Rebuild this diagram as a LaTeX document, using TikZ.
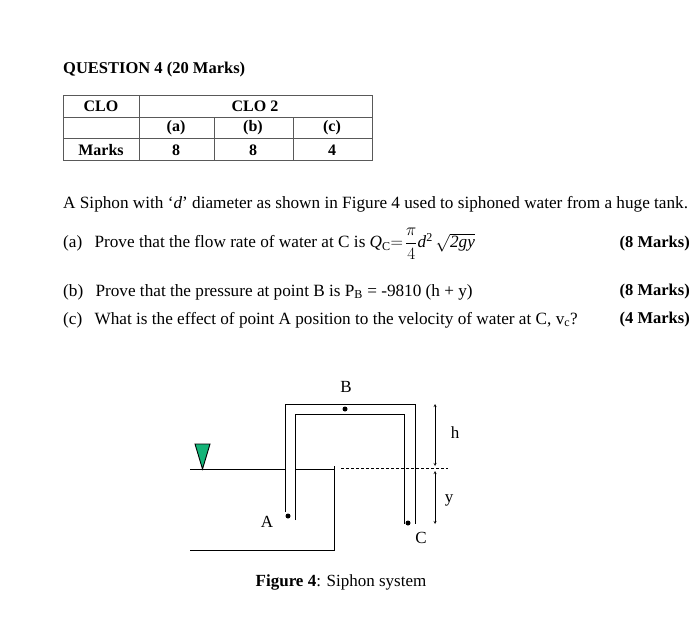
\documentclass[tikz,border=0pt]{standalone}
\usepackage{amsmath}
\usepackage{fontspec}
\setmainfont{Liberation Serif}
\definecolor{wtr}{RGB}{20,180,120}
\begin{document}
\begin{tikzpicture}[x=1pt,y=-1pt,
  txt/.style={anchor=west,inner sep=0pt,font=\fontsize{17.2}{19}\selectfont},
  bt/.style={inner sep=0pt,font=\fontsize{16}{18}\selectfont\bfseries},
  pipe/.style={line width=0.9pt},
  dotm/.style={circle,fill=black,inner sep=0pt,minimum size=5pt},
  lbl/.style={inner sep=0pt,font=\fontsize{17}{19}\selectfont}]
\useasboundingbox (0,0) rectangle (700,634);
\node[txt,font=\fontsize{16.5}{18}\selectfont\bfseries] (q) at (63,70) {QUESTION 4 (20 Marks)};
% table
\draw[gray!70!black,line width=0.8pt] (63,95) rectangle (372,160);
\draw[gray!70!black,line width=0.8pt] (63,117) -- (372,117) (63,138) -- (372,138) (139,95) -- (139,160) (214,117) -- (214,160) (293,117) -- (293,160);
\node[bt] (t1) at (101,106) {CLO};
\node[bt] (t2) at (255,106) {CLO 2};
\node[bt] (t3) at (176,128) {(a)};
\node[bt] (t4) at (253,128) {(b)};
\node[bt] (t5) at (332,128) {(c)};
\node[bt] (t6) at (101,150) {Marks};
\node[bt] (t7) at (176,150) {8};
\node[bt] (t8) at (253,150) {8};
\node[bt] (t9) at (332,150) {4};
\node[txt] (l1) at (63,204) {A Siphon with `\textit{d}' diameter as shown in Figure 4 used to siphoned water from a huge tank.};
\node[txt] (l2) at (63,244) {(a)\hspace{8pt} Prove that the flow rate of water at C is \textit{Q}\textsubscript{C}$=\!\dfrac{\pi}{4}$\textit{d}\textsuperscript{2}$\,\sqrt{\textit{2gy}}$};
\node[txt] (l3) at (63,292) {(b)\hspace{8pt} Prove that the pressure at point B is P\textsubscript{B} = -9810 (h + y)};
\node[txt] (l4) at (63,320) {(c)\hspace{8pt} What is the effect of point A position to the velocity of water at C, v\textsubscript{c}?};
\node[txt,anchor=east,font=\fontsize{16.5}{18}\selectfont\bfseries] (m1) at (690,244) {(8 Marks)};
\node[txt,anchor=east,font=\fontsize{16.5}{18}\selectfont\bfseries] (m2) at (690,292) {(8 Marks)};
\node[txt,anchor=east,font=\fontsize{16.5}{18}\selectfont\bfseries] (m3) at (690,320) {(4 Marks)};
% siphon
\draw[pipe] (285,512) -- (285,404) -- (415,404) -- (415,524);
\draw[pipe] (295,520) -- (295,414) -- (404,414) -- (404,524);
\draw[pipe] (190,469) -- (285,469) (295,469) -- (334,469);
\draw[pipe] (334,466) -- (334,550) -- (190,550);
\draw[pipe,dashed,dash pattern=on 3pt off 2pt] (341,468) -- (448,468);
\fill[wtr] (195,444) -- (210,444) -- (202.5,469) -- cycle;
\draw[pipe] (195,444) -- (210,444) -- (202.5,469) -- cycle;
\coordinate (ht) at (435,404); \coordinate (hb) at (435,466);
\coordinate (yt) at (435,471); \coordinate (yb) at (435,524);
\draw[stealth-stealth] (ht) -- (hb);
\draw[stealth-stealth] (yt) -- (yb);
\node[lbl] (h) at (455,433) {h};
\node[lbl] (y) at (449,500) {y};
\node[lbl] (B) at (346,387) {B};
\node[dotm] (dB) at (345,409) {};
\node[lbl] (A) at (267,522) {A};
\node[dotm] (dA) at (288,516) {};
\node[lbl] (C) at (421,538) {C};
\node[dotm] (dC) at (408,523) {};
\node[lbl] (cap) at (341,582) {\textbf{Figure 4}: Siphon system};
\end{tikzpicture}
\end{document}
